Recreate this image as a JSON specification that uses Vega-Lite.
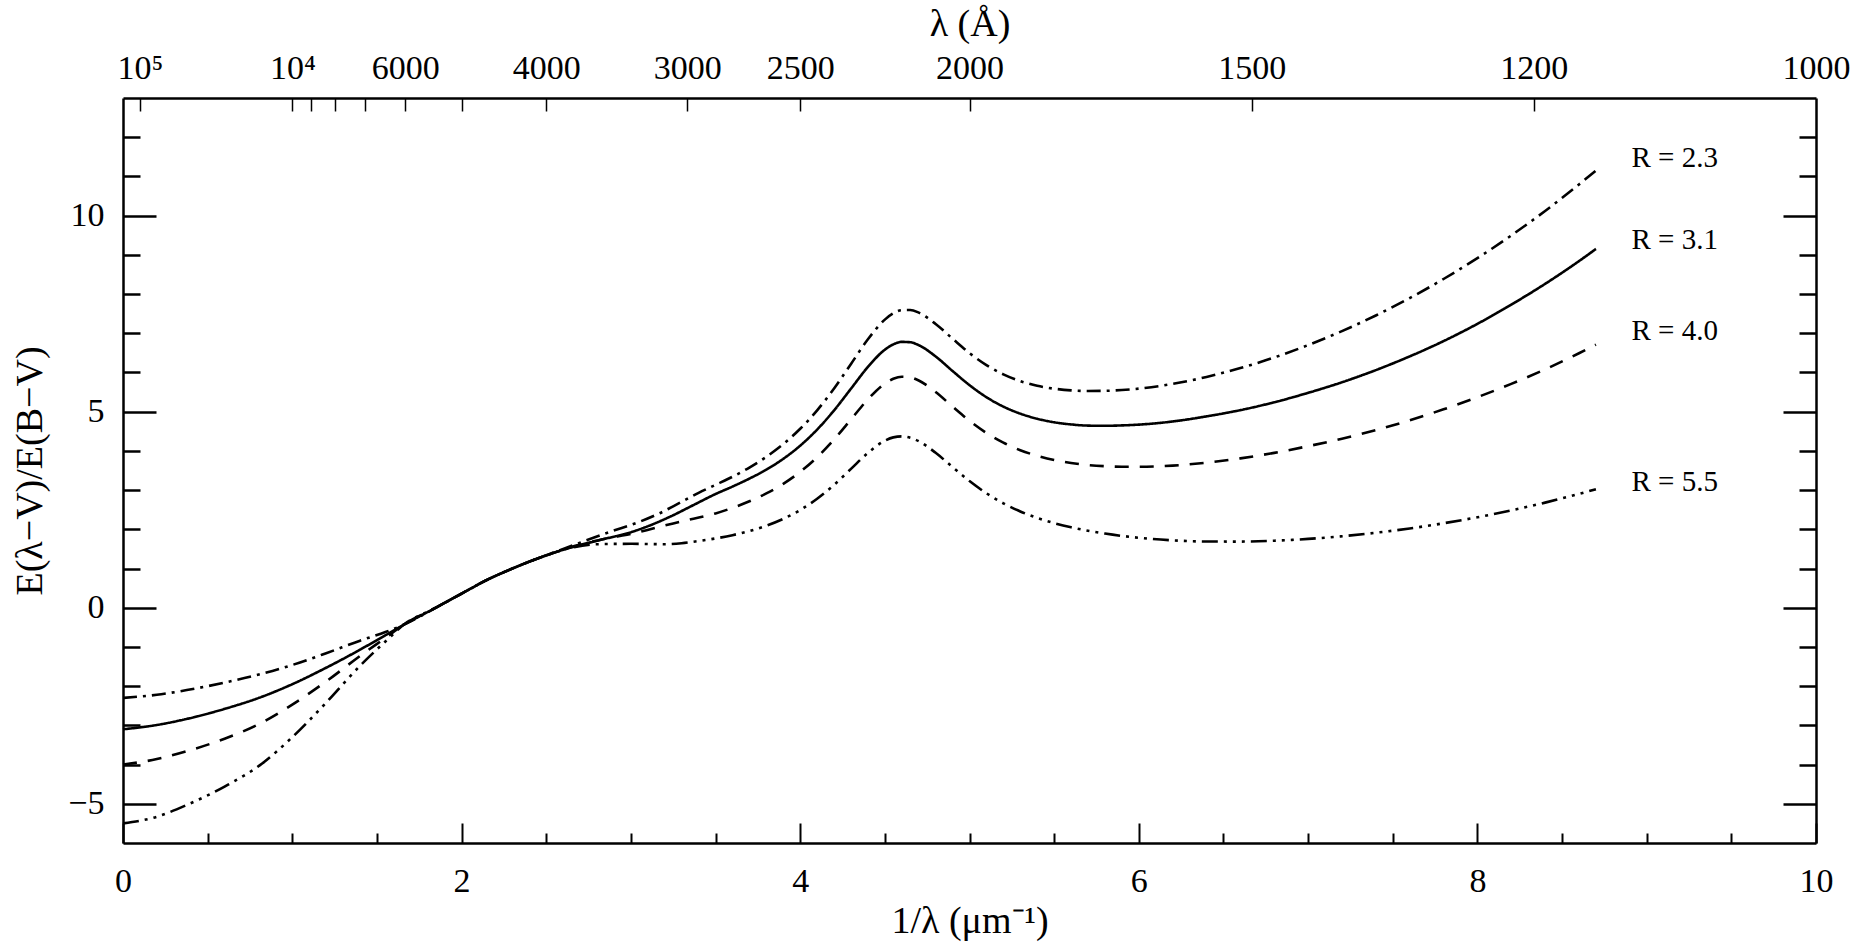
{
  "$schema": "https://vega.github.io/schema/vega-lite/v6.json",
  "width": 1693,
  "height": 745,
  "autosize": "none",
  "padding": {"left": 123, "top": 98, "right": 47, "bottom": 108},
  "background": "white",
  "config": {
    "view": {"stroke": null},
    "axis": {
      "grid": false,
      "labelFont": "Liberation Serif",
      "titleFont": "Liberation Serif",
      "labelFontSize": 34,
      "titleFontSize": 38,
      "titleFontWeight": "normal",
      "labelColor": "black",
      "titleColor": "black",
      "domainColor": "black",
      "tickColor": "black",
      "labelFlush": false,
      "labelOverlap": false
    }
  },
  "datasets": {
    "curves": [
      {"R": "2.3", "x": 0, "y": -2.3}, {"R": "2.3", "x": 0.2, "y": -2.22}, {"R": "2.3", "x": 0.377, "y": -2.1}, {"R": "2.3", "x": 0.6, "y": -1.91},
      {"R": "2.3", "x": 0.82, "y": -1.685}, {"R": "2.3", "x": 1.0, "y": -1.46}, {"R": "2.3", "x": 1.2, "y": -1.16}, {"R": "2.3", "x": 1.4, "y": -0.84},
      {"R": "2.3", "x": 1.55, "y": -0.62}, {"R": "2.3", "x": 1.667, "y": -0.416}, {"R": "2.3", "x": 1.828, "y": -0.046}, {"R": "2.3", "x": 2.0, "y": 0.36},
      {"R": "2.3", "x": 2.141, "y": 0.69}, {"R": "2.3", "x": 2.3, "y": 1.0}, {"R": "2.3", "x": 2.433, "y": 1.23}, {"R": "2.3", "x": 2.55, "y": 1.42},
      {"R": "2.3", "x": 2.7, "y": 1.66}, {"R": "2.3", "x": 2.88, "y": 1.94}, {"R": "2.3", "x": 3.05, "y": 2.19}, {"R": "2.3", "x": 3.17, "y": 2.41},
      {"R": "2.3", "x": 3.29, "y": 2.68}, {"R": "2.3", "x": 3.4, "y": 2.93}, {"R": "2.3", "x": 3.5, "y": 3.134}, {"R": "2.3", "x": 3.6, "y": 3.34},
      {"R": "2.3", "x": 3.7, "y": 3.575}, {"R": "2.3", "x": 3.8, "y": 3.849}, {"R": "2.3", "x": 3.9, "y": 4.173}, {"R": "2.3", "x": 4.0, "y": 4.564},
      {"R": "2.3", "x": 4.1, "y": 5.034}, {"R": "2.3", "x": 4.2, "y": 5.591}, {"R": "2.3", "x": 4.3, "y": 6.218}, {"R": "2.3", "x": 4.4, "y": 6.846},
      {"R": "2.3", "x": 4.5, "y": 7.348}, {"R": "2.3", "x": 4.55, "y": 7.508}, {"R": "2.3", "x": 4.6, "y": 7.59}, {"R": "2.3", "x": 4.65, "y": 7.593},
      {"R": "2.3", "x": 4.7, "y": 7.526}, {"R": "2.3", "x": 4.8, "y": 7.238}, {"R": "2.3", "x": 4.9, "y": 6.861}, {"R": "2.3", "x": 5.0, "y": 6.495},
      {"R": "2.3", "x": 5.1, "y": 6.188}, {"R": "2.3", "x": 5.2, "y": 5.952}, {"R": "2.3", "x": 5.3, "y": 5.78}, {"R": "2.3", "x": 5.4, "y": 5.662},
      {"R": "2.3", "x": 5.5, "y": 5.586}, {"R": "2.3", "x": 5.6, "y": 5.544}, {"R": "2.3", "x": 5.7, "y": 5.528}, {"R": "2.3", "x": 5.8, "y": 5.532},
      {"R": "2.3", "x": 5.9, "y": 5.552}, {"R": "2.3", "x": 6.0, "y": 5.588}, {"R": "2.3", "x": 6.2, "y": 5.709}, {"R": "2.3", "x": 6.4, "y": 5.886},
      {"R": "2.3", "x": 6.6, "y": 6.112}, {"R": "2.3", "x": 6.8, "y": 6.383}, {"R": "2.3", "x": 7.0, "y": 6.698}, {"R": "2.3", "x": 7.2, "y": 7.055},
      {"R": "2.3", "x": 7.4, "y": 7.454}, {"R": "2.3", "x": 7.6, "y": 7.897}, {"R": "2.3", "x": 7.8, "y": 8.384}, {"R": "2.3", "x": 8.0, "y": 8.916},
      {"R": "2.3", "x": 8.2, "y": 9.494}, {"R": "2.3", "x": 8.4, "y": 10.12}, {"R": "2.3", "x": 8.6, "y": 10.795}, {"R": "2.3", "x": 8.7, "y": 11.151},

      {"R": "3.1", "x": 0, "y": -3.1}, {"R": "3.1", "x": 0.2, "y": -2.99}, {"R": "3.1", "x": 0.377, "y": -2.835}, {"R": "3.1", "x": 0.6, "y": -2.58},
      {"R": "3.1", "x": 0.82, "y": -2.271}, {"R": "3.1", "x": 1.0, "y": -1.95}, {"R": "3.1", "x": 1.2, "y": -1.53}, {"R": "3.1", "x": 1.4, "y": -1.07},
      {"R": "3.1", "x": 1.55, "y": -0.7}, {"R": "3.1", "x": 1.667, "y": -0.412}, {"R": "3.1", "x": 1.828, "y": -0.045}, {"R": "3.1", "x": 2.0, "y": 0.36},
      {"R": "3.1", "x": 2.141, "y": 0.69}, {"R": "3.1", "x": 2.3, "y": 1.0}, {"R": "3.1", "x": 2.433, "y": 1.23}, {"R": "3.1", "x": 2.55, "y": 1.41},
      {"R": "3.1", "x": 2.7, "y": 1.6}, {"R": "3.1", "x": 2.82, "y": 1.73}, {"R": "3.1", "x": 3.01, "y": 1.94}, {"R": "3.1", "x": 3.13, "y": 2.13},
      {"R": "3.1", "x": 3.25, "y": 2.36}, {"R": "3.1", "x": 3.37, "y": 2.62}, {"R": "3.1", "x": 3.5, "y": 2.9}, {"R": "3.1", "x": 3.6, "y": 3.09},
      {"R": "3.1", "x": 3.7, "y": 3.294}, {"R": "3.1", "x": 3.8, "y": 3.522}, {"R": "3.1", "x": 3.9, "y": 3.798}, {"R": "3.1", "x": 4.0, "y": 4.134},
      {"R": "3.1", "x": 4.1, "y": 4.544}, {"R": "3.1", "x": 4.2, "y": 5.033}, {"R": "3.1", "x": 4.3, "y": 5.587}, {"R": "3.1", "x": 4.4, "y": 6.142},
      {"R": "3.1", "x": 4.5, "y": 6.581}, {"R": "3.1", "x": 4.55, "y": 6.716}, {"R": "3.1", "x": 4.6, "y": 6.78}, {"R": "3.1", "x": 4.65, "y": 6.771},
      {"R": "3.1", "x": 4.7, "y": 6.697}, {"R": "3.1", "x": 4.8, "y": 6.409}, {"R": "3.1", "x": 4.9, "y": 6.037}, {"R": "3.1", "x": 5.0, "y": 5.677},
      {"R": "3.1", "x": 5.1, "y": 5.37}, {"R": "3.1", "x": 5.2, "y": 5.129}, {"R": "3.1", "x": 5.3, "y": 4.95}, {"R": "3.1", "x": 5.4, "y": 4.82},
      {"R": "3.1", "x": 5.5, "y": 4.73}, {"R": "3.1", "x": 5.6, "y": 4.675}, {"R": "3.1", "x": 5.7, "y": 4.645}, {"R": "3.1", "x": 5.8, "y": 4.64},
      {"R": "3.1", "x": 5.9, "y": 4.65}, {"R": "3.1", "x": 6.0, "y": 4.67}, {"R": "3.1", "x": 6.2, "y": 4.75}, {"R": "3.1", "x": 6.4, "y": 4.88},
      {"R": "3.1", "x": 6.6, "y": 5.04}, {"R": "3.1", "x": 6.8, "y": 5.24}, {"R": "3.1", "x": 7.0, "y": 5.48}, {"R": "3.1", "x": 7.2, "y": 5.75},
      {"R": "3.1", "x": 7.4, "y": 6.06}, {"R": "3.1", "x": 7.6, "y": 6.41}, {"R": "3.1", "x": 7.8, "y": 6.8}, {"R": "3.1", "x": 8.0, "y": 7.24},
      {"R": "3.1", "x": 8.2, "y": 7.73}, {"R": "3.1", "x": 8.4, "y": 8.26}, {"R": "3.1", "x": 8.6, "y": 8.84}, {"R": "3.1", "x": 8.7, "y": 9.15},

      {"R": "4.0", "x": 0, "y": -4.0}, {"R": "4.0", "x": 0.2, "y": -3.86}, {"R": "4.0", "x": 0.377, "y": -3.658}, {"R": "4.0", "x": 0.6, "y": -3.34},
      {"R": "4.0", "x": 0.82, "y": -2.93}, {"R": "4.0", "x": 1.0, "y": -2.47}, {"R": "4.0", "x": 1.2, "y": -1.88}, {"R": "4.0", "x": 1.4, "y": -1.23},
      {"R": "4.0", "x": 1.55, "y": -0.77}, {"R": "4.0", "x": 1.667, "y": -0.408}, {"R": "4.0", "x": 1.828, "y": -0.044}, {"R": "4.0", "x": 2.0, "y": 0.36},
      {"R": "4.0", "x": 2.141, "y": 0.69}, {"R": "4.0", "x": 2.3, "y": 1.0}, {"R": "4.0", "x": 2.433, "y": 1.23}, {"R": "4.0", "x": 2.55, "y": 1.41},
      {"R": "4.0", "x": 2.7, "y": 1.61}, {"R": "4.0", "x": 2.85, "y": 1.76}, {"R": "4.0", "x": 3.02, "y": 1.9}, {"R": "4.0", "x": 3.13, "y": 2.02},
      {"R": "4.0", "x": 3.25, "y": 2.15}, {"R": "4.0", "x": 3.37, "y": 2.27}, {"R": "4.0", "x": 3.5, "y": 2.406}, {"R": "4.0", "x": 3.6, "y": 2.547},
      {"R": "4.0", "x": 3.7, "y": 2.714}, {"R": "4.0", "x": 3.8, "y": 2.915}, {"R": "4.0", "x": 3.9, "y": 3.161}, {"R": "4.0", "x": 4.0, "y": 3.465},
      {"R": "4.0", "x": 4.1, "y": 3.839}, {"R": "4.0", "x": 4.2, "y": 4.29}, {"R": "4.0", "x": 4.3, "y": 4.802}, {"R": "4.0", "x": 4.4, "y": 5.315},
      {"R": "4.0", "x": 4.5, "y": 5.717}, {"R": "4.0", "x": 4.55, "y": 5.838}, {"R": "4.0", "x": 4.6, "y": 5.89}, {"R": "4.0", "x": 4.65, "y": 5.873},
      {"R": "4.0", "x": 4.7, "y": 5.794}, {"R": "4.0", "x": 4.8, "y": 5.501}, {"R": "4.0", "x": 4.9, "y": 5.129}, {"R": "4.0", "x": 5.0, "y": 4.767},
      {"R": "4.0", "x": 5.1, "y": 4.457}, {"R": "4.0", "x": 5.2, "y": 4.209}, {"R": "4.0", "x": 5.3, "y": 4.018}, {"R": "4.0", "x": 5.4, "y": 3.875},
      {"R": "4.0", "x": 5.5, "y": 3.768}, {"R": "4.0", "x": 5.6, "y": 3.691}, {"R": "4.0", "x": 5.7, "y": 3.64}, {"R": "4.0", "x": 5.8, "y": 3.61},
      {"R": "4.0", "x": 5.9, "y": 3.595}, {"R": "4.0", "x": 6.0, "y": 3.595}, {"R": "4.0", "x": 6.2, "y": 3.625}, {"R": "4.0", "x": 6.4, "y": 3.7},
      {"R": "4.0", "x": 6.6, "y": 3.81}, {"R": "4.0", "x": 6.8, "y": 3.95}, {"R": "4.0", "x": 7.0, "y": 4.12}, {"R": "4.0", "x": 7.2, "y": 4.31},
      {"R": "4.0", "x": 7.4, "y": 4.53}, {"R": "4.0", "x": 7.6, "y": 4.78}, {"R": "4.0", "x": 7.8, "y": 5.06}, {"R": "4.0", "x": 8.0, "y": 5.37},
      {"R": "4.0", "x": 8.2, "y": 5.71}, {"R": "4.0", "x": 8.4, "y": 6.08}, {"R": "4.0", "x": 8.6, "y": 6.49}, {"R": "4.0", "x": 8.7, "y": 6.709},

      {"R": "5.5", "x": 0, "y": -5.5}, {"R": "5.5", "x": 0.2, "y": -5.33}, {"R": "5.5", "x": 0.377, "y": -5.03}, {"R": "5.5", "x": 0.6, "y": -4.56},
      {"R": "5.5", "x": 0.82, "y": -3.98}, {"R": "5.5", "x": 1.0, "y": -3.3}, {"R": "5.5", "x": 1.2, "y": -2.42}, {"R": "5.5", "x": 1.4, "y": -1.48},
      {"R": "5.5", "x": 1.55, "y": -0.86}, {"R": "5.5", "x": 1.667, "y": -0.402}, {"R": "5.5", "x": 1.828, "y": -0.041}, {"R": "5.5", "x": 2.0, "y": 0.36},
      {"R": "5.5", "x": 2.141, "y": 0.69}, {"R": "5.5", "x": 2.3, "y": 1.0}, {"R": "5.5", "x": 2.433, "y": 1.23}, {"R": "5.5", "x": 2.55, "y": 1.41},
      {"R": "5.5", "x": 2.65, "y": 1.53}, {"R": "5.5", "x": 2.8, "y": 1.62}, {"R": "5.5", "x": 3.0, "y": 1.63}, {"R": "5.5", "x": 3.2, "y": 1.62},
      {"R": "5.5", "x": 3.3, "y": 1.645}, {"R": "5.5", "x": 3.4, "y": 1.701}, {"R": "5.5", "x": 3.5, "y": 1.767}, {"R": "5.5", "x": 3.6, "y": 1.851},
      {"R": "5.5", "x": 3.7, "y": 1.956}, {"R": "5.5", "x": 3.8, "y": 2.092}, {"R": "5.5", "x": 3.9, "y": 2.267}, {"R": "5.5", "x": 4.0, "y": 2.493},
      {"R": "5.5", "x": 4.1, "y": 2.78}, {"R": "5.5", "x": 4.2, "y": 3.134}, {"R": "5.5", "x": 4.3, "y": 3.541}, {"R": "5.5", "x": 4.4, "y": 3.949},
      {"R": "5.5", "x": 4.5, "y": 4.26}, {"R": "5.5", "x": 4.55, "y": 4.345}, {"R": "5.5", "x": 4.6, "y": 4.371}, {"R": "5.5", "x": 4.65, "y": 4.337},
      {"R": "5.5", "x": 4.7, "y": 4.247}, {"R": "5.5", "x": 4.8, "y": 3.951}, {"R": "5.5", "x": 4.9, "y": 3.587}, {"R": "5.5", "x": 5.0, "y": 3.23},
      {"R": "5.5", "x": 5.1, "y": 2.92}, {"R": "5.5", "x": 5.2, "y": 2.663}, {"R": "5.5", "x": 5.3, "y": 2.456}, {"R": "5.5", "x": 5.4, "y": 2.291},
      {"R": "5.5", "x": 5.5, "y": 2.158}, {"R": "5.5", "x": 5.6, "y": 2.051}, {"R": "5.5", "x": 5.7, "y": 1.963}, {"R": "5.5", "x": 5.8, "y": 1.892},
      {"R": "5.5", "x": 5.9, "y": 1.832}, {"R": "5.5", "x": 6.0, "y": 1.784}, {"R": "5.5", "x": 6.2, "y": 1.719}, {"R": "5.5", "x": 6.4, "y": 1.689},
      {"R": "5.5", "x": 6.6, "y": 1.687}, {"R": "5.5", "x": 6.8, "y": 1.709}, {"R": "5.5", "x": 7.0, "y": 1.755}, {"R": "5.5", "x": 7.2, "y": 1.823},
      {"R": "5.5", "x": 7.4, "y": 1.912}, {"R": "5.5", "x": 7.6, "y": 2.022}, {"R": "5.5", "x": 7.8, "y": 2.154}, {"R": "5.5", "x": 8.0, "y": 2.307},
      {"R": "5.5", "x": 8.2, "y": 2.483}, {"R": "5.5", "x": 8.4, "y": 2.681}, {"R": "5.5", "x": 8.6, "y": 2.903}, {"R": "5.5", "x": 8.7, "y": 3.023}
    ],
    "labels": [
      {"label": "R = 2.3", "x": 8.91, "y": 11.47},
      {"label": "R = 3.1", "x": 8.91, "y": 9.37},
      {"label": "R = 4.0", "x": 8.91, "y": 7.06},
      {"label": "R = 5.5", "x": 8.91, "y": 3.21}
    ]
  },
  "resolve": {"axis": {"x": "independent", "y": "independent"}},
  "layer": [
    {
      "data": {"name": "curves"},
      "mark": {"type": "line", "interpolate": "monotone", "strokeWidth": 2.6, "color": "black"},
      "encoding": {
        "x": {
          "field": "x", "type": "quantitative",
          "scale": {"domain": [0, 10], "nice": false, "zero": false},
          "axis": {
            "orient": "bottom", "values": [0, 2, 4, 6, 8, 10], "format": "d",
            "ticks": false, "domain": true, "domainWidth": 2.5,
            "labelPadding": 21, "labelBaseline": "top",
            "title": "1/λ (μm⁻¹)", "titleX": 846.5, "titleY": 78,
            "titleBaseline": "middle", "titleAlign": "center"
          }
        },
        "y": {
          "field": "y", "type": "quantitative",
          "scale": {"domain": [-6, 13], "nice": false, "zero": false},
          "axis": {
            "orient": "left", "values": [-5, 0, 5, 10], "format": "d",
            "ticks": false, "domain": true, "domainWidth": 2.5,
            "labelPadding": 19, "labelBaseline": "middle",
            "title": "E(λ−V)/E(B−V)", "titleX": -93, "titleY": 372.5,
            "titleAngle": -90, "titleBaseline": "middle", "titleAlign": "center"
          }
        },
        "strokeDash": {
          "field": "R", "type": "nominal",
          "scale": {"domain": ["2.3", "3.1", "4.0", "5.5"], "range": [[14, 6, 3, 6], [1, 0], [14, 11], [16, 6, 3, 6, 3, 6, 3, 6]]},
          "legend": null
        }
      }
    },
    {
      "data": {"name": "curves"},
      "mark": {"type": "point", "opacity": 0, "size": 0},
      "encoding": {
        "x": {
          "field": "x", "type": "quantitative",
          "scale": {"domain": [0, 10], "nice": false, "zero": false},
          "axis": {"orient": "bottom", "values": [0, 2, 4, 6, 8, 10], "labels": false, "domain": false, "tickSize": -20, "tickWidth": 2, "title": null}
        },
        "y": {
          "field": "y", "type": "quantitative",
          "scale": {"domain": [-6, 13], "nice": false, "zero": false},
          "axis": {"orient": "left", "values": [-5, 0, 5, 10], "labels": false, "domain": false, "tickSize": -33, "tickWidth": 2.5, "title": null}
        }
      }
    },
    {
      "data": {"name": "curves"},
      "mark": {"type": "point", "opacity": 0, "size": 0},
      "encoding": {
        "x": {
          "field": "x", "type": "quantitative",
          "scale": {"domain": [0, 10], "nice": false, "zero": false},
          "axis": {"orient": "bottom", "values": [0.5, 1, 1.5, 2.5, 3, 3.5, 4.5, 5, 5.5, 6.5, 7, 7.5, 8.5, 9, 9.5], "labels": false, "domain": false, "tickSize": -10, "tickWidth": 2, "title": null}
        },
        "y": {
          "field": "y", "type": "quantitative",
          "scale": {"domain": [-6, 13], "nice": false, "zero": false},
          "axis": {"orient": "left", "values": [-4, -3, -2, -1, 1, 2, 3, 4, 6, 7, 8, 9, 11, 12], "labels": false, "domain": false, "tickSize": -17, "tickWidth": 2.5, "title": null}
        }
      }
    },
    {
      "data": {"name": "curves"},
      "mark": {"type": "point", "opacity": 0, "size": 0},
      "encoding": {
        "x": {
          "field": "x", "type": "quantitative",
          "scale": {"domain": [0, 10], "nice": false, "zero": false},
          "axis": {
            "orient": "top", "values": [0.1, 1, 1.6667, 2.5, 3.3333, 4, 5, 6.6667, 8.3333, 10],
            "labelExpr": "datum.value < 0.5 ? '10⁵' : datum.value < 1.5 ? '10⁴' : format(10000 / datum.value, '.0f')",
            "ticks": false, "domain": true, "domainWidth": 2.5,
            "labelPadding": 20, "labelBaseline": "alphabetic",
            "title": "λ (Å)", "titleX": 846.5, "titleY": -74,
            "titleBaseline": "middle", "titleAlign": "center"
          }
        },
        "y": {
          "field": "y", "type": "quantitative",
          "scale": {"domain": [-6, 13], "nice": false, "zero": false},
          "axis": {"orient": "right", "values": [-5, 0, 5, 10], "labels": false, "domain": true, "domainWidth": 2.5, "tickSize": -33, "tickWidth": 2.5, "title": null}
        }
      }
    },
    {
      "data": {"name": "curves"},
      "mark": {"type": "point", "opacity": 0, "size": 0},
      "encoding": {
        "x": {
          "field": "x", "type": "quantitative",
          "scale": {"domain": [0, 10], "nice": false, "zero": false},
          "axis": {"orient": "top", "values": [0.1, 1, 1.1111, 1.25, 1.4286, 1.6667, 2, 2.5, 3.3333, 4, 5, 6.6667, 8.3333], "labels": false, "domain": false, "tickSize": -13, "tickWidth": 1.5, "title": null}
        },
        "y": {
          "field": "y", "type": "quantitative",
          "scale": {"domain": [-6, 13], "nice": false, "zero": false},
          "axis": {"orient": "right", "values": [-4, -3, -2, -1, 1, 2, 3, 4, 6, 7, 8, 9, 11, 12], "labels": false, "domain": false, "tickSize": -17, "tickWidth": 2.5, "title": null}
        }
      }
    },
    {
      "data": {"name": "labels"},
      "mark": {"type": "text", "align": "left", "baseline": "middle", "font": "Liberation Serif", "fontSize": 29, "color": "black"},
      "encoding": {
        "x": {"field": "x", "type": "quantitative", "scale": {"domain": [0, 10], "nice": false, "zero": false}, "axis": null},
        "y": {"field": "y", "type": "quantitative", "scale": {"domain": [-6, 13], "nice": false, "zero": false}, "axis": null},
        "text": {"field": "label"}
      }
    }
  ]
}
